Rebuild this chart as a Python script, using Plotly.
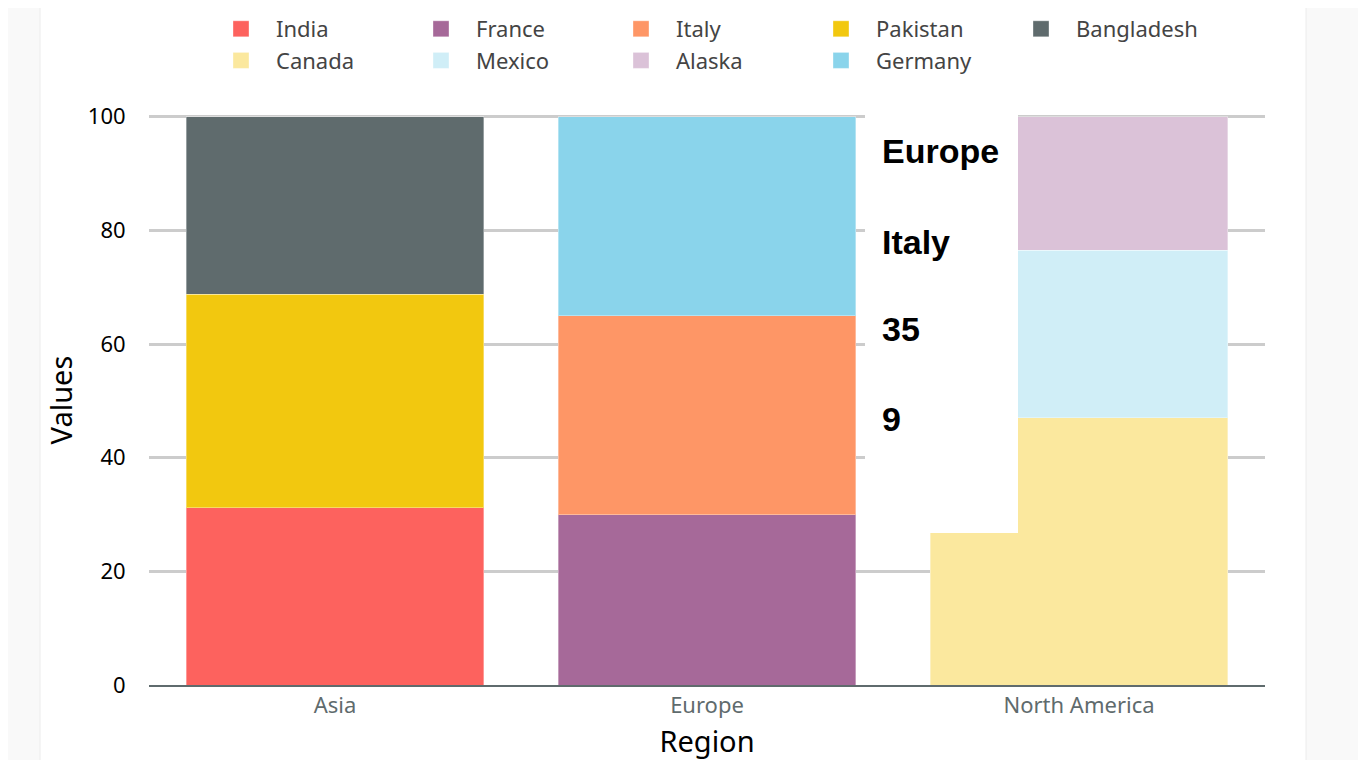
import plotly.graph_objects as go

# data (percent share of region total)
regions = ["Asia", "Europe", "North America"]
countries = ["India", "France", "Italy", "Pakistan", "Bangladesh",
             "Canada", "Mexico", "Alaska", "Germany"]
country_region = ["Asia", "Europe", "Europe", "Asia", "Asia",
                  "North America", "North America", "North America", "Europe"]
shares = [31.2, 30.0, 35.0, 37.6, 31.2, 47.0, 29.5, 23.5, 35.0]
colors = ["#FD625E", "#A66999", "#FE9666", "#F2C80F", "#5F6B6D",
          "#FBE89E", "#D0EEF7", "#DBC2D8", "#8AD4EB"]

# hover card frozen in the screenshot
tooltip_lines = ["Europe", "Italy", "35", "9"]

OFF = 8  # page body margin
W, H = 1350, 752
L, R, T, B = 141, 93, 107, 75
PW, PH = W - L - R, H - T - B


def px_x(px):
    # screen x -> paper x
    return (px - OFF - L) / PW


def px_y(py):
    # screen y -> paper y
    return (H - B - (py - OFF)) / PH


fig = go.Figure()

for name, reg, val, col in zip(countries, country_region, shares, colors):
    fig.add_trace(go.Bar(
        x=[reg], y=[val], name=name,
        marker=dict(color=col, line=dict(color="rgba(255,255,255,0.35)", width=1)),
        legendgroup=name, showlegend=False,
        hoverinfo="skip",
    ))
    # legend proxy with a bigger square swatch
    fig.add_trace(go.Scatter(
        x=[None], y=[None], mode="markers", name=name, legendgroup=name,
        marker=dict(symbol="square", size=20, color=col,
                    line=dict(color="rgba(255,255,255,0.35)", width=1)),
    ))

# white card behind the chart
fig.add_shape(type="rect", xref="paper", yref="paper",
              x0=px_x(40), x1=px_x(1306), y0=px_y(762), y1=px_y(-5),
              fillcolor="white", line=dict(color="#ececec", width=1), layer="below")

# tooltip box
fig.add_shape(type="rect", xref="paper", yref="paper",
              x0=px_x(865), x1=px_x(1018), y0=px_y(533), y1=px_y(113),
              fillcolor="white", line=dict(width=0), layer="above")
for txt, cy in zip(tooltip_lines, [151, 242, 329, 419]):
    fig.add_annotation(x=px_x(880), y=px_y(cy), xref="paper", yref="paper",
                       text=f"<b>{txt}</b>", showarrow=False,
                       xanchor="left", yanchor="middle",
                       font=dict(family="Liberation Sans, Arial", size=34, color="black"))

fig.update_layout(
    width=W, height=H,
    margin=dict(l=L, r=R, t=T, b=B, autoexpand=False),
    barmode="stack", bargap=0.2,
    paper_bgcolor="#f9f9f9", plot_bgcolor="white",
    font=dict(family="Noto Sans", color="#444"),
    legend=dict(orientation="h", x=px_x(206), y=px_y(OFF), xanchor="left", yanchor="top",
                entrywidth=125, entrywidthmode="pixels", itemwidth=60,
                font=dict(size=22, color="#444"), bgcolor="rgba(0,0,0,0)",
                traceorder="normal"),
    showlegend=True,
    hovermode=False,
)
fig.update_xaxes(
    categoryorder="array", categoryarray=regions,
    showline=True, linecolor="#5F6B6D", linewidth=2,
    ticks="", automargin=False,
    tickfont=dict(size=22, color="#5F6B6D"),
    title=dict(text="Region", font=dict(size=29, color="black"), standoff=22),
)
fig.update_yaxes(
    range=[0, 100.3], tickvals=[0, 20, 40, 60, 80, 100],
    showgrid=True, gridcolor="#CCCCCC", gridwidth=3, zeroline=False,
    ticks="outside", ticklen=18, tickcolor="rgba(0,0,0,0)", automargin=False,
    tickfont=dict(size=22, color="black"),
    title=dict(text="Values", font=dict(size=29, color="black"), standoff=6),
)

fig.write_html("out.html")
